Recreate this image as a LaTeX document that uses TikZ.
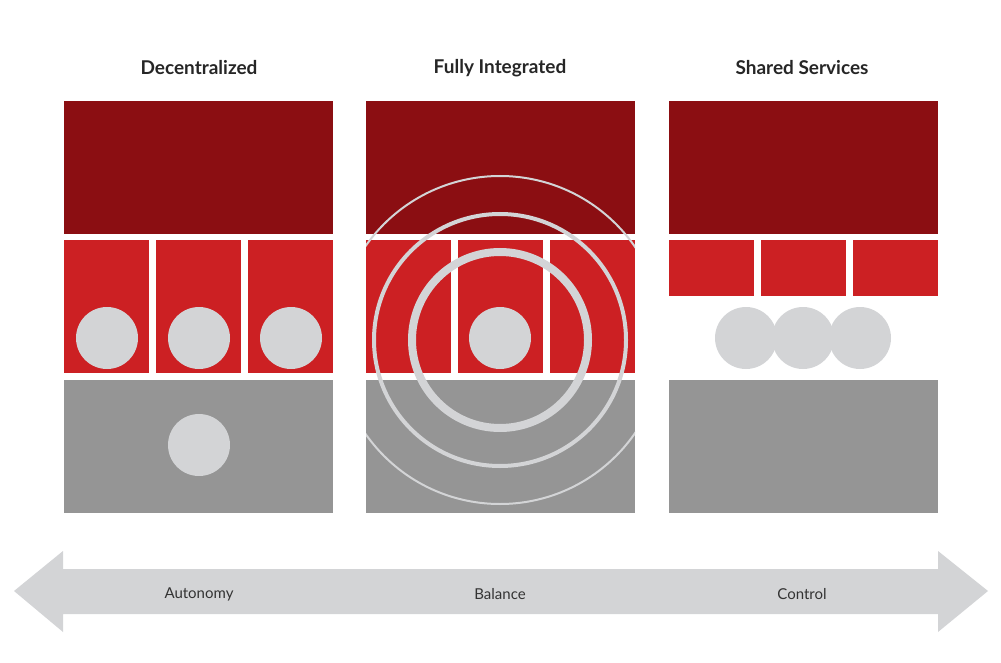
\documentclass[tikz,border=0pt]{standalone}
\usepackage{fontspec}
\setmainfont{Lato}
\begin{document}
\begin{tikzpicture}[x=1pt,y=-1pt,
  dark/.style={fill=dred,draw=none},
  redb/.style={fill=mred,draw=none},
  greyb/.style={fill=mgrey,draw=none},
  dot/.style={circle,fill=lgrey,draw=none,minimum size=62pt,inner sep=0pt},
  ttl/.style={font=\bfseries\fontsize{19}{22}\selectfont,text=black!85},
  lbl/.style={font=\fontsize{15}{18}\selectfont,text=black!80}]
\definecolor{dred}{HTML}{8B0E12}
\definecolor{mred}{HTML}{CC2023}
\definecolor{mgrey}{HTML}{959595}
\definecolor{lgrey}{HTML}{D3D4D6}
\useasboundingbox (0,0) rectangle (1001,663);
% arrow
\fill[lgrey] (14,591) -- (63,551) -- (63,569) -- (938,569) -- (938,551) -- (988,591) -- (938,632) -- (938,614) -- (63,614) -- (63,632) -- cycle;
\node[lbl] (a1) at (199,594) {Autonomy};
\node[lbl] (a2) at (500,594) {Balance};
\node[lbl] (a3) at (802,594) {Control};
% titles
\node[ttl] (t1) at (199,68) {Decentralized};
\node[ttl] (t2) at (500,68) {Fully Integrated};
\node[ttl] (t3) at (802,68) {Shared Services};
% left panel
\fill[dark] (64,101) rectangle (333,234);
\fill[redb] (64,240) rectangle (149,373);
\fill[redb] (156,240) rectangle (241,373);
\fill[redb] (248,240) rectangle (333,373);
\fill[greyb] (64,380) rectangle (333,513);
\node[dot] (l1) at (107,338) {};
\node[dot] (l2) at (199,338) {};
\node[dot] (l3) at (291,338) {};
\node[dot] (l4) at (199,445) {};
% middle panel
\fill[dark] (366,101) rectangle (635,234);
\fill[redb] (366,240) rectangle (451,373);
\fill[redb] (458,240) rectangle (543,373);
\fill[redb] (550,240) rectangle (635,373);
\fill[greyb] (366,380) rectangle (635,513);
\begin{scope}
\clip (366,101) rectangle (635,513);
\draw[lgrey,line width=2pt] (500,340) circle (164);
\draw[lgrey,line width=4pt] (500,340) circle (126);
\draw[lgrey,line width=8pt] (500,340) circle (88);
\end{scope}
\node[dot] (m1) at (500,338) {};
% right panel
\fill[dark] (669,101) rectangle (938,234);
\fill[redb] (669,240) rectangle (754,296);
\fill[redb] (761,240) rectangle (846,296);
\fill[redb] (853,240) rectangle (938,296);
\fill[greyb] (669,380) rectangle (938,513);
\node[dot] (r1) at (746,338) {};
\node[dot] (r2) at (803,338) {};
\node[dot] (r3) at (860,338) {};
\end{tikzpicture}
\end{document}
